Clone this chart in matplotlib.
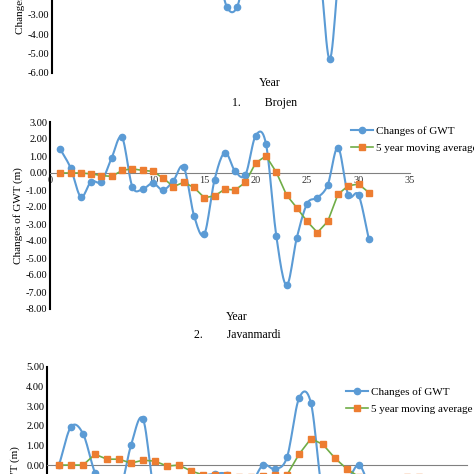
import numpy as np
import matplotlib
matplotlib.use("Agg")
import matplotlib.pyplot as plt

plt.rcParams['font.family'] = ['Liberation Serif', 'DejaVu Serif']

years = list(range(1, 32))
# Panel 1 (Brojen) - only the lower part is visible
brojen_gwt = [0.5, 0.8, 0.2, 0.6, 0.4, 0.9, 0.3, 0.5, 0.2, 0.6, 0.4, 0.3, 0.5, 0.2, 0.4, -0.5,
              -2.6, -2.6, -0.3, 0.4, 0.6, 0.2, 0.5, 0.3, 0.4, -0.6, -5.3, -0.4, 0.5, 0.3, 0.4]
# Panel 2 (Javanmardi)
jav_gwt = [1.4, 0.3, -1.4, -0.5, -0.5, 0.9, 2.1, -0.8, -0.95, -0.6, -1.0, -0.45, 0.35, -2.5, -3.6,
           -0.4, 1.2, 0.1, -0.1, 2.2, 1.7, -3.7, -6.6, -3.8, -1.8, -1.45, -0.7, 1.5, -1.3, -1.3, -3.9]
jav_ma = [0, 0, 0, -0.05, -0.15, -0.2, 0.15, 0.25, 0.15, 0.1, -0.3, -0.8, -0.55, -0.85, -1.45,
          -1.35, -0.95, -1.0, -0.55, 0.6, 1.0, 0.05, -1.3, -2.05, -2.85, -3.5, -2.85, -1.25, -0.75,
          -0.65, -1.15]
# Panel 3 - only the upper part is visible
p3_gwt = [0.0, 1.95, 1.6, -0.4, -1.5, -1.5, 1.0, 2.35, -1.5, -1.0, -0.8, -1.2, -0.6, -0.45, -0.5,
          -1.5, -1.0, 0.0, -0.2, 0.4, 3.4, 3.15, -1.5, -1.0, -0.8, 0.0, -1.2, -1.5, -1.0, -1.3, -1.2]
p3_ma = [0, 0, 0, 0.55, 0.3, 0.3, 0.1, 0.25, 0.2, -0.05, 0.0, -0.3, -0.5, -0.5, -0.5, -0.6, -0.6,
         -0.55, -0.5, -0.5, 0.55, 1.35, 1.05, 0.35, -0.2, -0.6, -0.7, -0.8, -0.7, -0.6, -0.6]

BLUE = '#5B9BD5'
ORANGE = '#ED7D31'
GREEN = '#70AD47'


def smooth(x, y, n=12):
    x = np.asarray(x, float); y = np.asarray(y, float)
    px = np.concatenate([[2*x[0]-x[1]], x, [2*x[-1]-x[-2]]])
    py = np.concatenate([[2*y[0]-y[1]], y, [2*y[-1]-y[-2]]])
    xs, ys = [], []
    t = np.linspace(0, 1, n, endpoint=False)
    for i in range(1, len(px)-2):
        for arr, out in ((px, xs), (py, ys)):
            p0, p1, p2, p3 = arr[i-1], arr[i], arr[i+1], arr[i+2]
            out.extend(0.5*((2*p1) + (-p0+p2)*t + (2*p0-5*p1+4*p2-p3)*t**2 + (-p0+3*p1-3*p2+p3)*t**3))
    xs.append(x[-1]); ys.append(y[-1])
    return xs, ys


W = 474.0
fig = plt.figure(figsize=(4.74, 4.74), dpi=100)


def make_ax(left, right, ytop_px, ybot_px, ylim, ticks):
    ax = fig.add_axes([left/W, 1-ybot_px/W, (right-left)/W, (ybot_px-ytop_px)/W])
    ax.set_xlim(0, 35); ax.set_ylim(*ylim)
    for s in ('top', 'right'):
        ax.spines[s].set_visible(False)
    ax.spines['bottom'].set_position(('data', 0))
    ax.spines['bottom'].set_color('#808080')
    ax.spines['left'].set_linewidth(1.5)
    ax.set_yticks(ticks)
    ax.set_yticklabels([f'{t:.2f}' for t in ticks], fontsize=7.5)
    ax.set_xticks(range(0, 36, 5))
    ax.tick_params(axis='x', length=0, labelsize=7.5, labelcolor='#333333', pad=2)
    ax.tick_params(axis='y', length=0, pad=2)
    ax.patch.set_alpha(0)
    return ax


def draw(ax, g, m=None, legend_xy=None):
    sx, sy = smooth(years, g)
    ax.plot(sx, sy, color=BLUE, lw=1.5, zorder=3)
    ax.plot(years, g, 'o', color=BLUE, ms=4.5, zorder=4, label='Changes of GWT')
    if m is not None:
        ax.plot(years, m, '-', color=GREEN, lw=1.2, zorder=3)
        ax.plot(years, m, 's', color=ORANGE, ms=4.5, zorder=4)
    if legend_xy is not None:
        from matplotlib.lines import Line2D
        h = [Line2D([], [], color=BLUE, marker='o', ms=4.5, lw=1.5),
             Line2D([], [], color=GREEN, marker='s', mfc=ORANGE, mec=ORANGE, ms=4.5, lw=1.2)]
        ax.legend(h, ['Changes of GWT', '5 year moving average'], loc='upper left',
                  bbox_to_anchor=legend_xy, bbox_transform=fig.transFigure, frameon=False,
                  fontsize=8, handlelength=2.0, handletextpad=0.3, labelspacing=0.6, borderpad=0)


# Panel 1
ax1 = make_ax(52, 412, -102, 73, (-6, 3), [-6, -5, -4, -3, -2, -1, 0, 1, 2, 3])
draw(ax1, brojen_gwt)
ax1.set_xticklabels([])
ax1.set_ylabel('Changes of GWT (m)', fontsize=8, labelpad=2)
fig.text(270/W, 1-83/W, 'Year', ha='center', va='center', fontsize=8.5)
fig.text(265/W, 1-103/W, '1.        Brojen', ha='center', va='center', fontsize=8.5)

# Panel 2
ax2 = make_ax(50, 410, 122, 309, (-8, 3), list(range(-8, 4)))
draw(ax2, jav_gwt, jav_ma, legend_xy=(345/W, 1-121/W))
ax2.set_ylabel('Changes of GWT (m)', fontsize=8, labelpad=2)
fig.text(237/W, 1-317/W, 'Year', ha='center', va='center', fontsize=8.5)
fig.text(237/W, 1-335/W, '2.        Javanmardi', ha='center', va='center', fontsize=8.5)

# Panel 3
ax3 = make_ax(47, 467, 367, 622, (-8, 5), list(range(-8, 6)))
draw(ax3, p3_gwt, p3_ma, legend_xy=(340/W, 1-382/W))
ax3.set_xticklabels([])
ax3.set_ylabel('Changes of GWT (m)', fontsize=8, labelpad=2)

fig.savefig('out.png', dpi=100)
